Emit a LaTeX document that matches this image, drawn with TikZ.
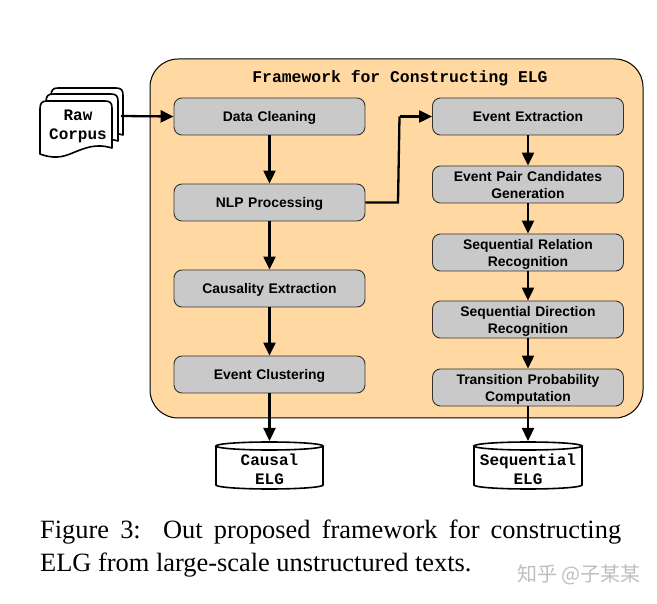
\documentclass[tikz,border=0pt]{standalone}
\usepackage{fontspec}
\setmainfont{Liberation Sans}
\newfontfamily\monof{Liberation Mono}
\newfontfamily\seriff{Liberation Serif}
\newfontfamily\cjkf{Noto Sans CJK SC}
\usetikzlibrary{arrows.meta}
\definecolor{frameorange}{HTML}{FFD9A1}
\definecolor{boxgray}{HTML}{C9C9C9}
\definecolor{edgebrown}{HTML}{3A3228}
\newcommand{\lsp}{\rule[-3pt]{0pt}{17pt}}
\tikzset{
  x=1pt,y=-1pt,
  framebox/.style={draw=black,line width=1pt,fill=frameorange,rounded corners=28pt},
  stepbox/.style={draw=edgebrown,line width=0.9pt,fill=boxgray,rounded corners=8pt,minimum width=191pt,minimum height=37pt,inner sep=0pt,align=center,text width=188pt,font=\fontsize{13.9}{17.5}\selectfont\bfseries},
  flow/.style={draw=black,line width=2.3pt,-{Triangle[length=13pt,width=12pt]}},
  plainline/.style={draw=black,line width=2.3pt},
  docsheet/.style={draw=black,line width=1.6pt,fill=white,line join=round},
  cyl/.style={draw=black,line width=1.6pt,fill=white},
  monolabel/.style={font=\monof\bfseries\fontsize{16}{19}\selectfont,align=center,inner sep=0pt},
}
\newcommand{\docshape}[2]{%
  \draw[docsheet,shift={(#1,#2)}] (0,8) .. controls (0,2) and (2,0) .. (7,0) -- (65,0)
    .. controls (70,0) and (72,2) .. (72,7) -- (72,47)
    .. controls (55,42) and (45,47) .. (30,53) .. controls (18,58) and (8,56) .. (0,53) -- cycle;}
\newcommand{\cylshape}[3]{%
  \draw[cyl] (#1,#2+5) -- (#1,#2+44) arc[start angle=180,end angle=0,x radius=#3/2,y radius=4]
    -- (#1+#3,#2+5);
  \draw[cyl] (#1+#3/2,#2+5) ellipse[x radius=#3/2,y radius=4];}
\begin{document}
\begin{tikzpicture}
\useasboundingbox (0,0) rectangle (657,604);
\fill[white] (0,0) rectangle (657,604);
\draw[framebox] (150,59) rectangle (643,418);
\node[monolabel,font=\monof\bfseries\fontsize{16.4}{19}\selectfont] (title) at (400,78) {Framework for Constructing ELG};
\docshape{51}{88}
\docshape{46}{94}
\docshape{40}{101}
\node[monolabel] (raw) at (78,126.5) {Raw\\Corpus};
\coordinate (rawout) at (121,116);
\node[stepbox] (clean) at (269.5,116.5) {\lsp Data Cleaning};
\node[stepbox] (nlp) at (269.5,202.5) {\lsp NLP Processing};
\node[stepbox] (cause) at (269.5,288.5) {\lsp Causality Extraction};
\node[stepbox] (cluster) at (269.5,374.5) {\lsp Event Clustering};
\node[stepbox] (extract) at (528,116.5) {\lsp Event Extraction};
\node[stepbox] (pair) at (528,184.5) {\lsp Event Pair Candidates\\\lsp Generation};
\node[stepbox] (rel) at (528,252.5) {\lsp Sequential Relation\\\lsp Recognition};
\node[stepbox] (dir) at (528,319.5) {\lsp Sequential Direction\\\lsp Recognition};
\node[stepbox] (prob) at (528,387.5) {\lsp Transition Probability\\\lsp Computation};
\cylshape{216}{441}{107}
\cylshape{474}{441}{108}
\node[monolabel] (causal) at (269.5,469) {Causal\\ELG};
\node[monolabel] (seq) at (528,469) {Sequential\\ELG};
\coordinate (causaltop) at (269.5,441);
\coordinate (seqtop) at (528,441);
\coordinate (elbowa) at (398,202.5);
\coordinate (elbowb) at (399.5,116.5);
\draw[flow] (rawout) -- (clean.west);
\draw[flow] (clean.south) -- (nlp.north);
\draw[flow] (nlp.south) -- (cause.north);
\draw[flow] (cause.south) -- (cluster.north);
\draw[flow] (cluster.south) -- (causaltop);
\draw[flow] (extract.south) -- (pair.north);
\draw[flow] (pair.south) -- (rel.north);
\draw[flow] (rel.south) -- (dir.north);
\draw[flow] (dir.south) -- (prob.north);
\draw[flow] (prob.south) -- (seqtop);
\draw[plainline] (nlp.east) -- (elbowa) -- (elbowb);
\draw[flow] (elbowb) -- (extract.west);
\node[anchor=north west,inner sep=0pt,text width=581pt,align=justify,font=\seriff\fontsize{26.4}{32.5}\selectfont] (caption) at (40,520) {Figure 3:\ \ Out proposed framework for constructing\linebreak ELG from large-scale unstructured texts.};
\node[anchor=west,inner sep=0pt,text=black!25,font=\cjkf\fontsize{20}{22}\selectfont] (mark) at (517,575) {知乎 @子某某};
\end{tikzpicture}
\end{document}
